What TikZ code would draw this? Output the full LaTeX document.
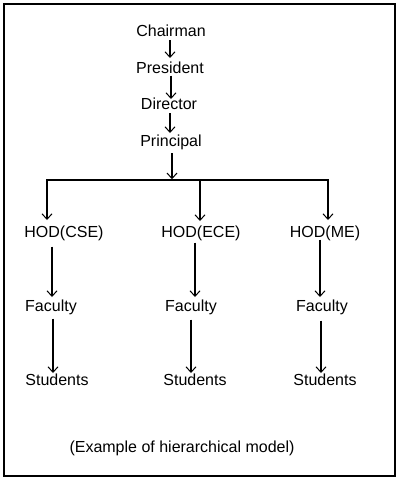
\documentclass[tikz,border=0pt]{standalone}
\usepackage{fontspec}
\setmainfont{Liberation Sans}
\usetikzlibrary{arrows.meta}
\begin{document}
\begin{tikzpicture}[x=1pt,y=-1pt,
  lbl/.style={anchor=base,inner sep=0pt,outer sep=0pt,font=\fontsize{16}{16}\selectfont,text height=12pt,text depth=3.5pt},
  arr/.style={line width=1.5pt,-{Straight Barb[length=5.5pt,width=10pt,line width=1pt]}},
  bar/.style={line width=1.5pt}]
\useasboundingbox (0,0) rectangle (400,480);
\draw[line width=2pt] (4,4) rectangle (395,476);
% nodes
\node[lbl] (chair) at (171,36) {Chairman};
\node[lbl] (pres) at (170,73) {President};
\node[lbl] (dir) at (169,109) {Director};
\node[lbl] (prin) at (171,146) {Principal};
\node[lbl] (hcse) at (64,237) {HOD(CSE)};
\node[lbl] (hece) at (201,237) {HOD(ECE)};
\node[lbl] (hme) at (325,237) {HOD(ME)};
\node[lbl] (fac1) at (51,311) {Faculty};
\node[lbl] (fac2) at (191,311) {Faculty};
\node[lbl] (fac3) at (322,311) {Faculty};
\node[lbl] (stu1) at (57,385) {Students};
\node[lbl] (stu2) at (195,385) {Students};
\node[lbl] (stu3) at (325,385) {Students};
\node[lbl] (cap) at (182,452) {(Example of hierarchical model)};
% bar coordinates
\coordinate (bl) at (47,180);
\coordinate (bm) at (200,180);
\coordinate (bp) at (172,180);
\coordinate (br) at (328,180);
% top chain
\draw[arr,shorten <=0.5pt,shorten >=3pt] ([xshift=-1pt]chair.south) -- (pres.north);
\draw[arr,shorten <=-1pt,shorten >=-2pt] ([xshift=1pt]pres.south) -- ([xshift=2pt]dir.north);
\draw[arr,shorten <=0.5pt,shorten >=1pt] ([xshift=1pt]dir.south) -- ([xshift=-1pt]prin.north);
\draw[arr,shorten <=3.5pt,shorten >=0.75pt] ([xshift=1pt]prin.south) -- (bp);
% bar
\draw[bar] ([xshift=-0.75pt]bl) -- ([xshift=0.75pt]br);
\draw[arr,shorten <=-0.75pt,shorten >=5pt] (bl) -- ([xshift=-17pt]hcse.north);
\draw[arr,shorten <=-0.75pt,shorten >=4pt] (bm) -- ([xshift=-1pt]hece.north);
\draw[arr,shorten <=-0.75pt,shorten >=5pt] (br) -- ([xshift=3pt]hme.north);
% HOD to faculty
\draw[arr,shorten <=6pt,shorten >=2pt] ([xshift=-12pt]hcse.south) -- ([xshift=1pt]fac1.north);
\draw[arr,shorten <=2pt,shorten >=2pt] ([xshift=-6pt]hece.south) -- ([xshift=4pt]fac2.north);
\draw[arr,shorten <=-1pt,shorten >=2pt] ([xshift=-5pt]hme.south) -- ([xshift=-2pt]fac3.north);
% faculty to students
\draw[arr,shorten <=4pt,shorten >=0pt] ([xshift=2pt]fac1.south) -- ([xshift=-4pt]stu1.north);
\draw[arr,shorten <=5pt,shorten >=0pt] (fac2.south) -- ([xshift=-4pt]stu2.north);
\draw[arr,shorten <=6pt,shorten >=0pt] ([xshift=-1pt]fac3.south) -- ([xshift=-4pt]stu3.north);
\end{tikzpicture}
\end{document}
